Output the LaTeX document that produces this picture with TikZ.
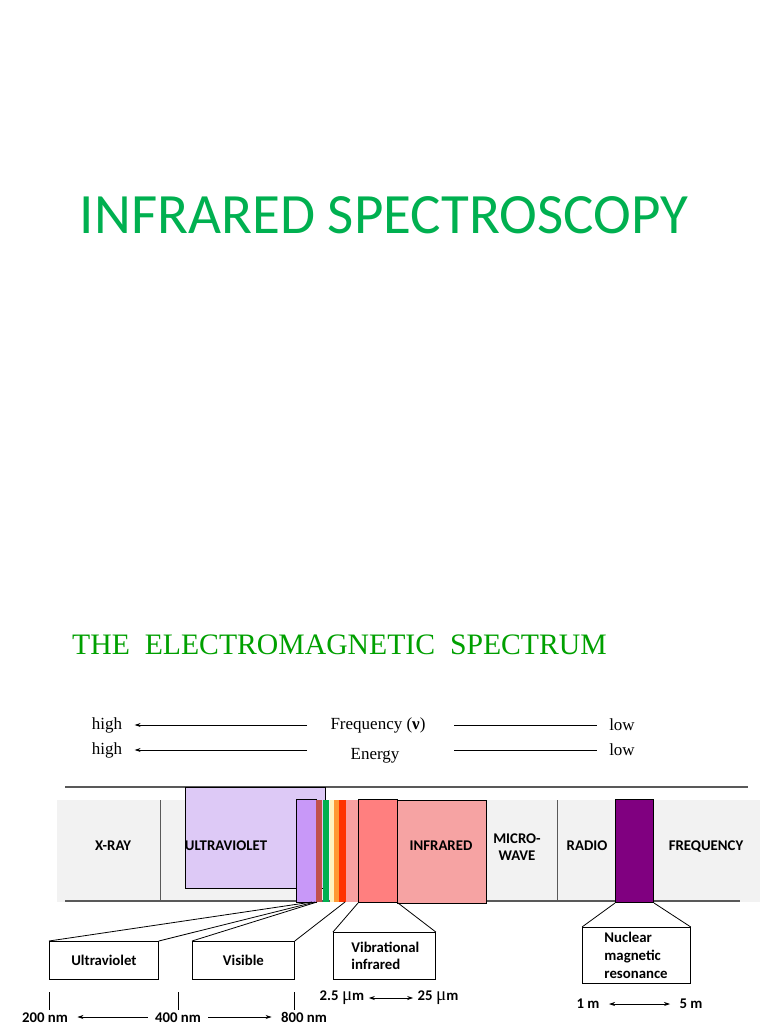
\documentclass[tikz,border=0pt]{standalone}
\usepackage{fontspec}
\setmainfont{Carlito}
\newfontfamily\timesfont{Liberation Serif}
\usetikzlibrary{positioning,arrows.meta}
\definecolor{Title}{HTML}{00B050}
\definecolor{Subtitle}{HTML}{00A000}
\definecolor{Strip}{HTML}{F2F2F2}
\definecolor{Rule}{HTML}{595959}
\definecolor{UVlight}{HTML}{DDC9F6}
\definecolor{UVbar}{HTML}{C898F8}
\definecolor{Brown}{HTML}{C0504D}
\definecolor{VisGreen}{HTML}{00B050}
\definecolor{Pale}{HTML}{FFF3C0}
\definecolor{Orange}{HTML}{FF9933}
\definecolor{Red}{HTML}{FF3300}
\definecolor{Pink}{HTML}{F8A0A0}
\definecolor{IRred}{HTML}{FF7F7F}
\definecolor{IRpink}{HTML}{F6A3A3}
\definecolor{NMR}{HTML}{800080}
\begin{document}
\begin{tikzpicture}[x=1pt,y=-1pt,every node/.style={font=\bfseries\fontsize{14.8}{17.5}\selectfont}]
\tikzstyle{band}=[draw=black,line width=1pt,anchor=north west,inner sep=0pt,minimum height=103pt]
\tikzstyle{bandname}=[text height=10.5pt,text depth=0pt]
\tikzstyle{labelbox}=[draw=black,line width=0.8pt,fill=white,anchor=north west,inner sep=0pt]
\tikzstyle{serif}=[font=\timesfont\fontsize{17}{20}\selectfont]
\tikzstyle{zoomline}=[line width=0.8pt]
\tikzstyle{arr}=[-{Stealth[length=6pt,width=4pt]},line width=0.8pt]
\tikzstyle{dbl}=[{Stealth[length=6pt,width=4pt]}-{Stealth[length=6pt,width=4pt]},line width=0.7pt]
\newcommand{\mug}{\textmd{\timesfont\fontsize{19}{19}\selectfont μ}}
\useasboundingbox (0,0) rectangle (768,1024);
\clip (0,0) rectangle (768,1024);
\fill[white] (0,0) rectangle (768,1024);

% titles
\node[font=\fontsize{57}{64}\selectfont,text=Title] (title) at (384,215) {INFRARED SPECTROSCOPY};
\node[font=\timesfont\fontsize{29.7}{34}\selectfont,text=Subtitle,anchor=west,inner sep=0pt] (em) at (72,645) {THE\ \ ELECTROMAGNETIC\ \ SPECTRUM};

% frequency and energy
\node[serif] (high1) at (107,725) {high};
\node[serif] (freq) at (378,725) {Frequency (\textbf{ν})};
\node[serif] (low1) at (622,725) {low};
\node[serif] (high2) at (107,750) {high};
\node[serif] (energy) at (375,756) {Energy};
\node[serif] (low2) at (622,750) {low};
\draw[arr,shorten <=20pt,shorten >=9pt] (freq.west) -- (high1.east);
\draw[line width=0.8pt,shorten <=25pt,shorten >=9pt] (freq.east) -- (low1.west);
\draw[arr,shorten <=20pt,shorten >=9pt] (freq.west |- high2.east) -- (high2.east);
\draw[line width=0.8pt,shorten <=25pt,shorten >=9pt] (freq.east |- low2.west) -- (low2.west);

% spectrum strip
\fill[Strip] (57,800) rectangle (760,902);
\draw[Rule,line width=1.2pt] (65,787) -- (748,787);
\draw[Rule,line width=1.2pt] (65,901) -- (740,901);
\draw[Rule,line width=0.8pt] (160,800) -- (160,900);
\draw[Rule,line width=0.8pt] (557,800) -- (557,900);
\node[band,fill=UVlight,minimum width=140pt,minimum height=101pt] (uvbig) at (185,787) {};
\node[band,fill=UVbar,minimum width=20pt] (uvbar) at (296,799) {};
\foreach \xa/\xb/\c in {316/322/Brown,323/328.5/VisGreen,330/334/Pale,334/339/Orange,339/346/Red,346/358/Pink}
  \fill[\c] (\xa,800) rectangle (\xb,902);
\node[band,fill=IRred,minimum width=39pt] (vibir) at (358,799) {};
\node[band,fill=IRpink,minimum width=89pt] (irband) at (397,800) {};
\node[band,fill=NMR,minimum width=38pt] (nmrband) at (615,799) {};

% band names
\node[bandname] (xray) at (113,845) {X-RAY};
\node[bandname] (uvname) at (226,845) {ULTRAVIOLET};
\node[bandname] (irname) at (441,845) {INFRARED};
\node[align=center] (micro) at (517,847) {MICRO-\\WAVE};
\node[bandname] (radio) at (587,845) {RADIO};
\node[bandname] (freqname) at (706,845) {FREQUENCY};

% magnified regions
\node[labelbox,minimum width=109pt,minimum height=38pt] (uvlab) at (49,941) {Ultraviolet};
\node[labelbox,minimum width=102pt,minimum height=38pt] (vislab) at (192,941) {Visible};
\node[labelbox,minimum width=102pt,minimum height=47pt,text width=66pt,align=left] (vibrlab) at (333,932) {Vibrational\\infrared};
\node[labelbox,minimum width=108pt,minimum height=56pt,text width=64pt,align=left,font=\bfseries\fontsize{14.8}{18}\selectfont] (nmrlab) at (582,927) {Nuclear\\magnetic\\resonance};
\coordinate (uvA) at (312,902);
\coordinate (uvB) at (315,902);
\coordinate (visA) at (317,902);
\coordinate (visB) at (345,902);
\draw[zoomline] (uvlab.north west) -- (uvA);
\draw[zoomline] (uvlab.north east) -- (uvB);
\draw[zoomline] (vislab.north west) -- (visA);
\draw[zoomline] (vislab.north east) -- (visB);
\draw[zoomline] (vibrlab.north west) -- (vibir.south west);
\draw[zoomline] (vibrlab.north east) -- (vibir.south east);
\draw[zoomline] (nmrlab.north west) -- (nmrband.south west);
\draw[zoomline] (nmrlab.north east) -- (nmrband.south east);

% wavelength scales
\foreach \x in {49,178,294}
  \draw[line width=0.8pt] (\x,992) -- (\x,1010);
\node (ir1) at (342,998) {2.5 \mug m};
\node (ir2) at (438,998) {25 \mug m};
\draw[dbl,shorten <=1pt,shorten >=1pt] (ir1) -- (ir2);
\node (m1) at (588,1004) {1 m};
\node (m5) at (691,1004) {5 m};
\draw[dbl,shorten <=6pt,shorten >=6pt] (m1) -- (m5);
\node[bandname,inner ysep=1pt] (nm200) at (45,1017) {200 nm};
\node[bandname,inner ysep=1pt] (nm400) at (178,1017) {400 nm};
\node[bandname,inner ysep=1pt] (nm800) at (304,1017) {800 nm};
\draw[arr,shorten <=4pt,shorten >=6pt] (nm400) -- (nm200);
\draw[arr,shorten <=4pt,shorten >=6pt] (nm400) -- (nm800);
\end{tikzpicture}
\end{document}
